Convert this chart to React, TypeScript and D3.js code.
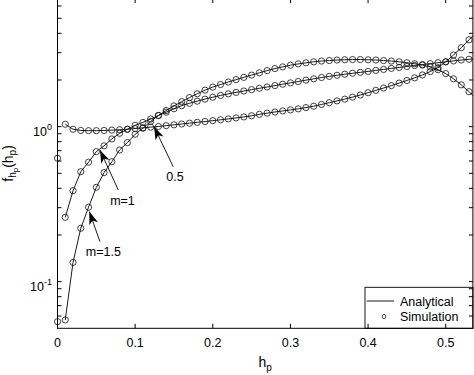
import React from 'react';
import * as d3 from 'd3';

// hp grid of the analytical curves / simulation points
const hp = [
  0.01, 0.02, 0.03, 0.04, 0.05, 0.06, 0.07, 0.08, 0.09, 0.10,
  0.11, 0.12, 0.13, 0.14, 0.15, 0.16, 0.17, 0.18, 0.19, 0.20,
  0.21, 0.22, 0.23, 0.24, 0.25, 0.26, 0.27, 0.28, 0.29, 0.30,
  0.31, 0.32, 0.33, 0.34, 0.35, 0.36, 0.37, 0.38, 0.39, 0.40,
  0.41, 0.42, 0.43, 0.44, 0.45, 0.46, 0.47, 0.48, 0.49, 0.50,
  0.51, 0.52, 0.53, 0.54,
];

// f_hp(hp) for m = 0.5
const fM05 = [
  1.036, 0.962, 0.945, 0.942, 0.942, 0.945, 0.950, 0.955, 0.962, 0.972,
  0.982, 0.993, 1.003, 1.015, 1.027, 1.040, 1.053, 1.066, 1.079, 1.093,
  1.107, 1.122, 1.138, 1.155, 1.175, 1.200, 1.222, 1.243, 1.263, 1.282,
  1.302, 1.327, 1.355, 1.390, 1.428, 1.466, 1.505, 1.550, 1.600, 1.655,
  1.715, 1.775, 1.840, 1.910, 1.985, 2.065, 2.155, 2.265, 2.400, 2.620,
  2.900, 3.230, 3.630, 4.100,
];

// m = 1
const fM1 = [
  0.260, 0.386, 0.512, 0.590, 0.690, 0.752, 0.833, 0.906, 0.962, 1.020,
  1.065, 1.120, 1.180, 1.240, 1.305, 1.365, 1.415, 1.460, 1.505, 1.548,
  1.590, 1.628, 1.663, 1.698, 1.733, 1.768, 1.802, 1.840, 1.878, 1.916,
  1.955, 1.995, 2.035, 2.075, 2.110, 2.145, 2.180, 2.210, 2.240, 2.270,
  2.305, 2.340, 2.375, 2.410, 2.445, 2.480, 2.515, 2.550, 2.585, 2.620,
  2.655, 2.690, 2.720, 2.745,
];

// m = 1.5
const fM15 = [
  0.0566, 0.133, 0.221, 0.302, 0.406, 0.505, 0.594, 0.707, 0.789, 0.893,
  0.977, 1.080, 1.180, 1.270, 1.360, 1.450, 1.540, 1.630, 1.720, 1.800,
  1.870, 1.940, 2.010, 2.080, 2.150, 2.225, 2.300, 2.370, 2.430, 2.490,
  2.540, 2.580, 2.620, 2.650, 2.670, 2.690, 2.700, 2.710, 2.710, 2.700,
  2.690, 2.670, 2.650, 2.620, 2.585, 2.545, 2.495, 2.425, 2.330, 2.200,
  2.035, 1.860, 1.680, 1.500,
];

// simulation points at hp = 0
const simAtZero = [0.625, 0.0552];

const xTicks = [0, 0.1, 0.2, 0.3, 0.4, 0.5];
const xTickLabels = ['0', '0.1', '0.2', '0.3', '0.4', '0.5'];
const yMajor = [0.1, 1];
const yMajorExp = ['-1', '0'];
const yMinor = [0.06, 0.07, 0.08, 0.09, 0.2, 0.3, 0.4, 0.5, 0.6, 0.7, 0.8, 0.9, 2, 3, 4, 5, 6];
const legendLabels = ['Analytical', 'Simulation'];

// arrow annotations, in data units
const notes = [
  { label: '0.5', tip: [0.1243, 1.0], tail: [0.149, 0.552], text: [0.1513, 0.48] },
  { label: 'm=1', tip: [0.0547, 0.707], tail: [0.0783, 0.39], text: [0.0837, 0.336] },
  { label: 'm=1.5', tip: [0.041, 0.283], tail: [0.0547, 0.181], text: [0.059, 0.156] },
];

const W = 474;
const H = 375;
const font = '"Liberation Sans", Arial, Helvetica, sans-serif';

const App = () => {
  const xMax = 0.535;
  const yMin = 0.05;
  const yMax = 6.7;
  const x = d3.scaleLinear().domain([0, xMax]).range([57.5, 472.9]);
  const y = d3.scaleLog().domain([yMin, yMax]).range([328.3, -1.4]);

  const left = x(0), right = x(xMax), top = y(yMax), bottom = y(yMin);

  const line = d3.line<number>()
    .x((_, i) => x(hp[i]))
    .y(v => y(v));

  const series = [fM05, fM1, fM15];

  const arrowHead = (tip: number[], tail: number[]) => {
    const tx = x(tip[0]), ty = y(tip[1]);
    const bx = x(tail[0]), by = y(tail[1]);
    const len = Math.hypot(tx - bx, ty - by);
    const dx = (tx - bx) / len, dy = (ty - by) / len;
    const nx = -dy, ny = dx;
    const L = 13, w = 4.5, notch = 9.5;
    const pts = [
      [tx, ty],
      [tx - L * dx + w * nx, ty - L * dy + w * ny],
      [tx - notch * dx, ty - notch * dy],
      [tx - L * dx - w * nx, ty - L * dy - w * ny],
    ];
    return pts.map(p => p.join(',')).join(' ');
  };

  return (
    <svg width={W} height={H} style={{ position: 'absolute', left: 0, top: 0, background: '#fff' }}
      fontFamily={font}>
      <defs>
        <clipPath id="plotArea">
          <rect x={left} y={top} width={right - left} height={bottom - top} />
        </clipPath>
      </defs>
      <rect x={0} y={0} width={W} height={H} fill="#fff" />

      {/* curves */}
      <g clipPath="url(#plotArea)">
        {series.map((s, k) => (
          <path key={k} d={line(s) || ''} fill="none" stroke="#000" strokeWidth={0.9} />
        ))}
      </g>
      {series.map((s, k) => (
        <g key={'m' + k}>
          {s.map((v, i) => hp[i] <= xMax ? (
            <circle key={i} cx={x(hp[i])} cy={y(v)} r={3.1} fill="none" stroke="#111" strokeWidth={0.8} />
          ) : null)}
        </g>
      ))}
      {simAtZero.map((v, i) => (
        <circle key={'z' + i} cx={x(0)} cy={y(v)} r={3.1} fill="none" stroke="#111" strokeWidth={0.8} />
      ))}

      {/* annotations */}
      {notes.map((n, i) => (
        <g key={'n' + i}>
          <line x1={x(n.tail[0])} y1={y(n.tail[1])} x2={x(n.tip[0])} y2={y(n.tip[1])}
            stroke="#000" strokeWidth={0.9} />
          <polygon points={arrowHead(n.tip, n.tail)} fill="#000" />
          <text x={x(n.text[0])} y={y(n.text[1]) + 4.5} textAnchor="middle" fontSize={12.5}>{n.label}</text>
        </g>
      ))}

      {/* legend */}
      <rect x={365} y={287.3} width={right - 365} height={bottom - 287.3} fill="#fff" stroke="#000" strokeWidth={0.9} />
      <line x1={366.7} x2={394} y1={301} y2={301} stroke="#000" strokeWidth={0.9} />
      <ellipse cx={384} cy={316.5} rx={1.7} ry={2.2} fill="none" stroke="#111" strokeWidth={0.8} />
      {legendLabels.map((t, i) => (
        <text key={t} x={400} y={305.5 + i * 15.5} fontSize={12.5}>{t}</text>
      ))}

      {/* frame and ticks */}
      <rect x={left} y={top} width={right - left} height={bottom - top} fill="none" stroke="#000" strokeWidth={1} />
      {xTicks.map((t, i) => (
        <g key={'xt' + i}>
          <line x1={x(t)} x2={x(t)} y1={bottom} y2={bottom - 4.5} stroke="#000" />
          <line x1={x(t)} x2={x(t)} y1={top} y2={top + 4.5} stroke="#000" />
          <text x={x(t)} y={bottom + 18.7} textAnchor="middle" fontSize={12.5}>{xTickLabels[i]}</text>
        </g>
      ))}
      {[...yMajor, ...yMinor].map((t, i) => (
        <g key={'yt' + i}>
          <line x1={left} x2={left + 4} y1={y(t)} y2={y(t)} stroke="#000" />
          <line x1={right} x2={right - 4} y1={y(t)} y2={y(t)} stroke="#000" />
        </g>
      ))}
      {yMajor.map((t, i) => (
        <text key={'yl' + i} x={52} y={y(t) + 9} textAnchor="end" fontSize={12.5}>
          10<tspan dy={-6} fontSize={9}>{yMajorExp[i]}</tspan>
        </text>
      ))}

      {/* axis labels */}
      <text x={(left + right) / 2} y={366.5} textAnchor="middle" fontSize={14}>
        h<tspan dy={4} fontSize={10}>p</tspan>
      </text>
      <text transform={`translate(13,${(top + bottom) / 2}) rotate(-90)`} textAnchor="middle" fontSize={14}>
        f<tspan dy={3} fontSize={10}>h</tspan><tspan dy={2} fontSize={8}>p</tspan>
        <tspan dy={-5} fontSize={14}>(h</tspan><tspan dy={3} fontSize={10}>p</tspan>
        <tspan dy={-3} fontSize={14}>)</tspan>
      </text>
    </svg>
  );
};

export default App;
